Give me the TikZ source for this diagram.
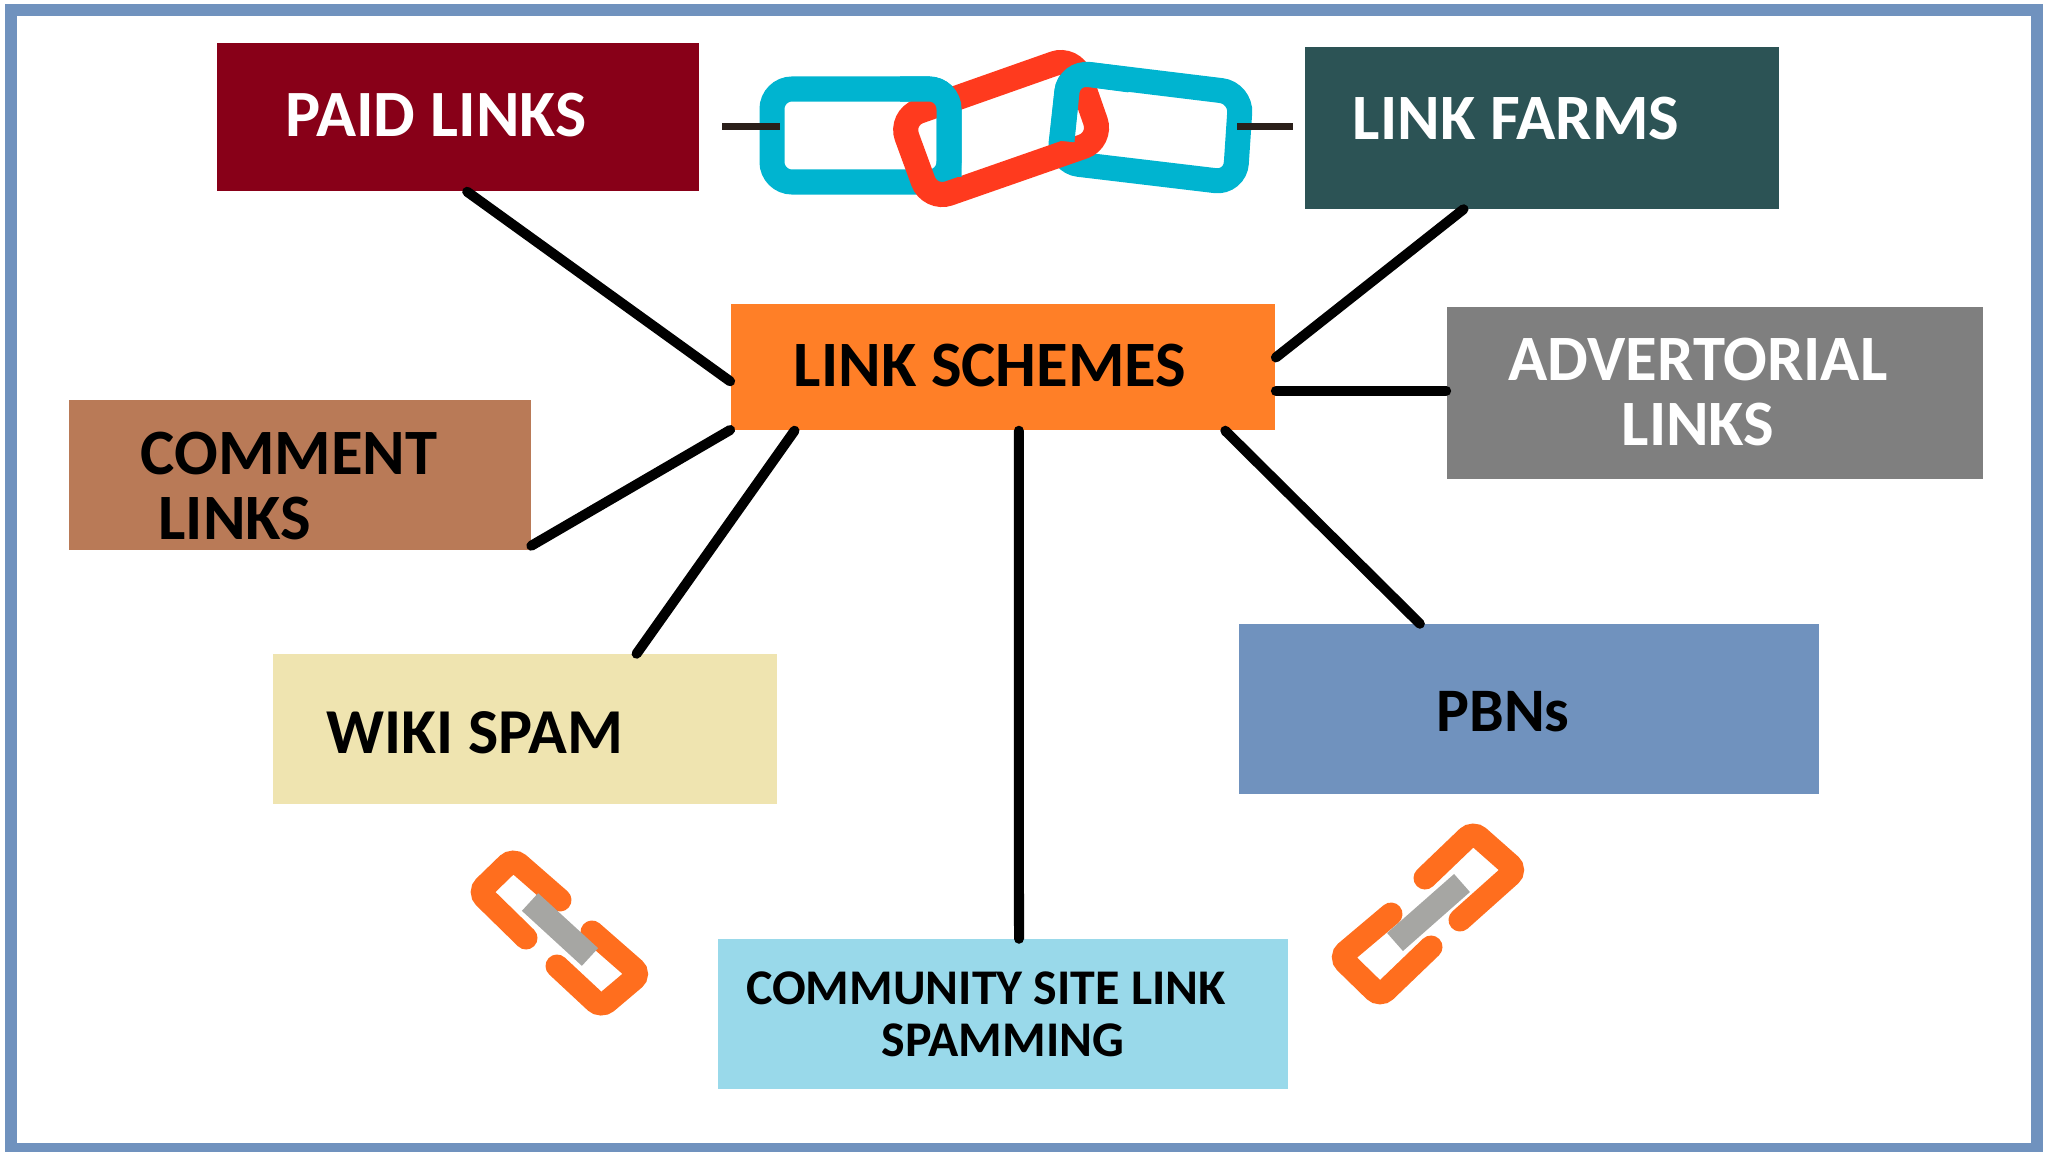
\documentclass[tikz,border=0pt]{standalone}
\usepackage{fontspec}
\setmainfont{Carlito}
\definecolor{framecol}{HTML}{7092BE}
\definecolor{paidcol}{HTML}{880018}
\definecolor{farmcol}{HTML}{2C5355}
\definecolor{schemecol}{HTML}{FF7F27}
\definecolor{advcol}{HTML}{7F7F7F}
\definecolor{commentcol}{HTML}{B97A57}
\definecolor{wikicol}{HTML}{EFE4B0}
\definecolor{sitecol}{HTML}{99D9EA}
\definecolor{ringblue}{HTML}{00B4D0}
\definecolor{ringred}{HTML}{FF3A1E}
\definecolor{tickcol}{HTML}{2A1F1A}
\definecolor{claspcol}{HTML}{FF6E1E}
\definecolor{barcol}{HTML}{A6A6A3}
\tikzset{
    box/.style = {rectangle, inner sep=0pt},
    lbl/.style = {inner sep=0pt, align=center, font=\fontsize{18.4}{18.6}\selectfont\bfseries},
    spoke/.style = {black, line width=0.1cm, line cap=round},
    ring/.style = {line width=0.25cm, rounded corners=0.2cm},
    clasp/.style = {claspcol, line width=0.23cm, line cap=round, rounded corners=0.08cm},
    bar/.style = {barcol, line width=0.24cm, rounded corners=0.02cm},
}
\begin{document}
\begin{tikzpicture}[x=0.01cm, y=-0.01cm]
    \useasboundingbox (0,0) rectangle (2048,1152);
    \draw[framecol, line width=0.12cm] (11,10) rectangle (2037,1149);

    % boxes
    \node[box, fill=paidcol, minimum width=4.82cm, minimum height=1.48cm] (paid) at (458,117) {};
    \node[box, fill=farmcol, minimum width=4.74cm, minimum height=1.61cm] (farms) at (1542,128) {};
    \node[box, fill=schemecol, minimum width=5.44cm, minimum height=1.26cm] (schemes) at (1003,367) {};
    \node[box, fill=advcol, minimum width=5.36cm, minimum height=1.72cm] (adv) at (1715,393) {};
    \node[box, fill=commentcol, minimum width=4.61cm, minimum height=1.50cm] (comment) at (300,475) {};
    \node[box, fill=wikicol, minimum width=5.04cm, minimum height=1.49cm] (wiki) at (525,729) {};
    \node[box, fill=framecol, minimum width=5.79cm, minimum height=1.69cm] (pbn) at (1529,709) {};
    \node[box, fill=sitecol, minimum width=5.70cm, minimum height=1.49cm] (site) at (1003,1014) {};

    % texts
    \node[lbl, white, font=\fontsize{18.8}{18.6}\selectfont\bfseries] (paidtxt) at (436,115) {PAID LINKS};
    \node[lbl, white] (farmtxt) at (1516,119) {LINK FARMS};
    \node[lbl] (schemetxt) at (990,366) {LINK SCHEMES};
    \node[lbl, white] (advtxt) at (1698,392) {ADVERTORIAL\\LINKS};
    \node[lbl, align=left] (commenttxt) at (289,486) {COMMENT\\\hspace*{0.18cm}LINKS};
    \node[lbl, font=\fontsize{18.2}{18.6}\selectfont\bfseries] (wikitxt) at (475,733) {WIKI SPAM};
    \node[lbl, font=\fontsize{17.6}{18.6}\selectfont\bfseries] (pbntxt) at (1503,712) {PBNs};
    \node[lbl, font=\fontsize{14.2}{14.9}\selectfont\bfseries] (sitetxt) at (986,1014) {COMMUNITY SITE LINK\\\hspace*{0.34cm}SPAMMING};

    % spokes
    \foreach \a/\b in {paid.277/schemes.183, farms.226/schemes.2,
        comment.-17/schemes.193, wiki.34/schemes.197, pbn.142/schemes.-16, site.78/schemes.-76} {
        \draw[spoke] (\a) -- (\b);
    }
    \draw[spoke] (schemes.-5) -- (schemes.-5 -| adv.west);

    % chain
    \draw[ring, ringblue] (772,89) -- (949,89) -- (949,182) -- (772,182) -- cycle;
    \draw[ring, ringblue] (1069,72) -- (1241,93) -- (1235,183) -- (1059,162) -- cycle;
    \draw[ring, ringred] (900,118) -- (1073,57) -- (1102,140) -- (930,200) -- cycle;
    \draw[ring, ringblue] (900,89) -- (949,89) -- (949,177);
    \draw[ring, ringblue] (1130,80) -- (1069,72) -- (1062,141);
    \draw[tickcol, line width=0.07cm] (722,127) -- (780,127);
    \draw[tickcol, line width=0.07cm] (1237,127) -- (1293,127);

    % small links
    \draw[clasp] (560,900) -- (513,859) -- (479,892) -- (526,938);
    \draw[clasp] (592,932) -- (640,974) -- (601,1007) -- (557,966);
    \draw[bar] (530,902) -- (590,957);
    \draw[clasp] (1425,878) -- (1473,832) -- (1516,870) -- (1460,920);
    \draw[clasp] (1391,914) -- (1340,957) -- (1380,996) -- (1431,947);
    \draw[bar] (1395,942) -- (1462,883);
\end{tikzpicture}
\end{document}
